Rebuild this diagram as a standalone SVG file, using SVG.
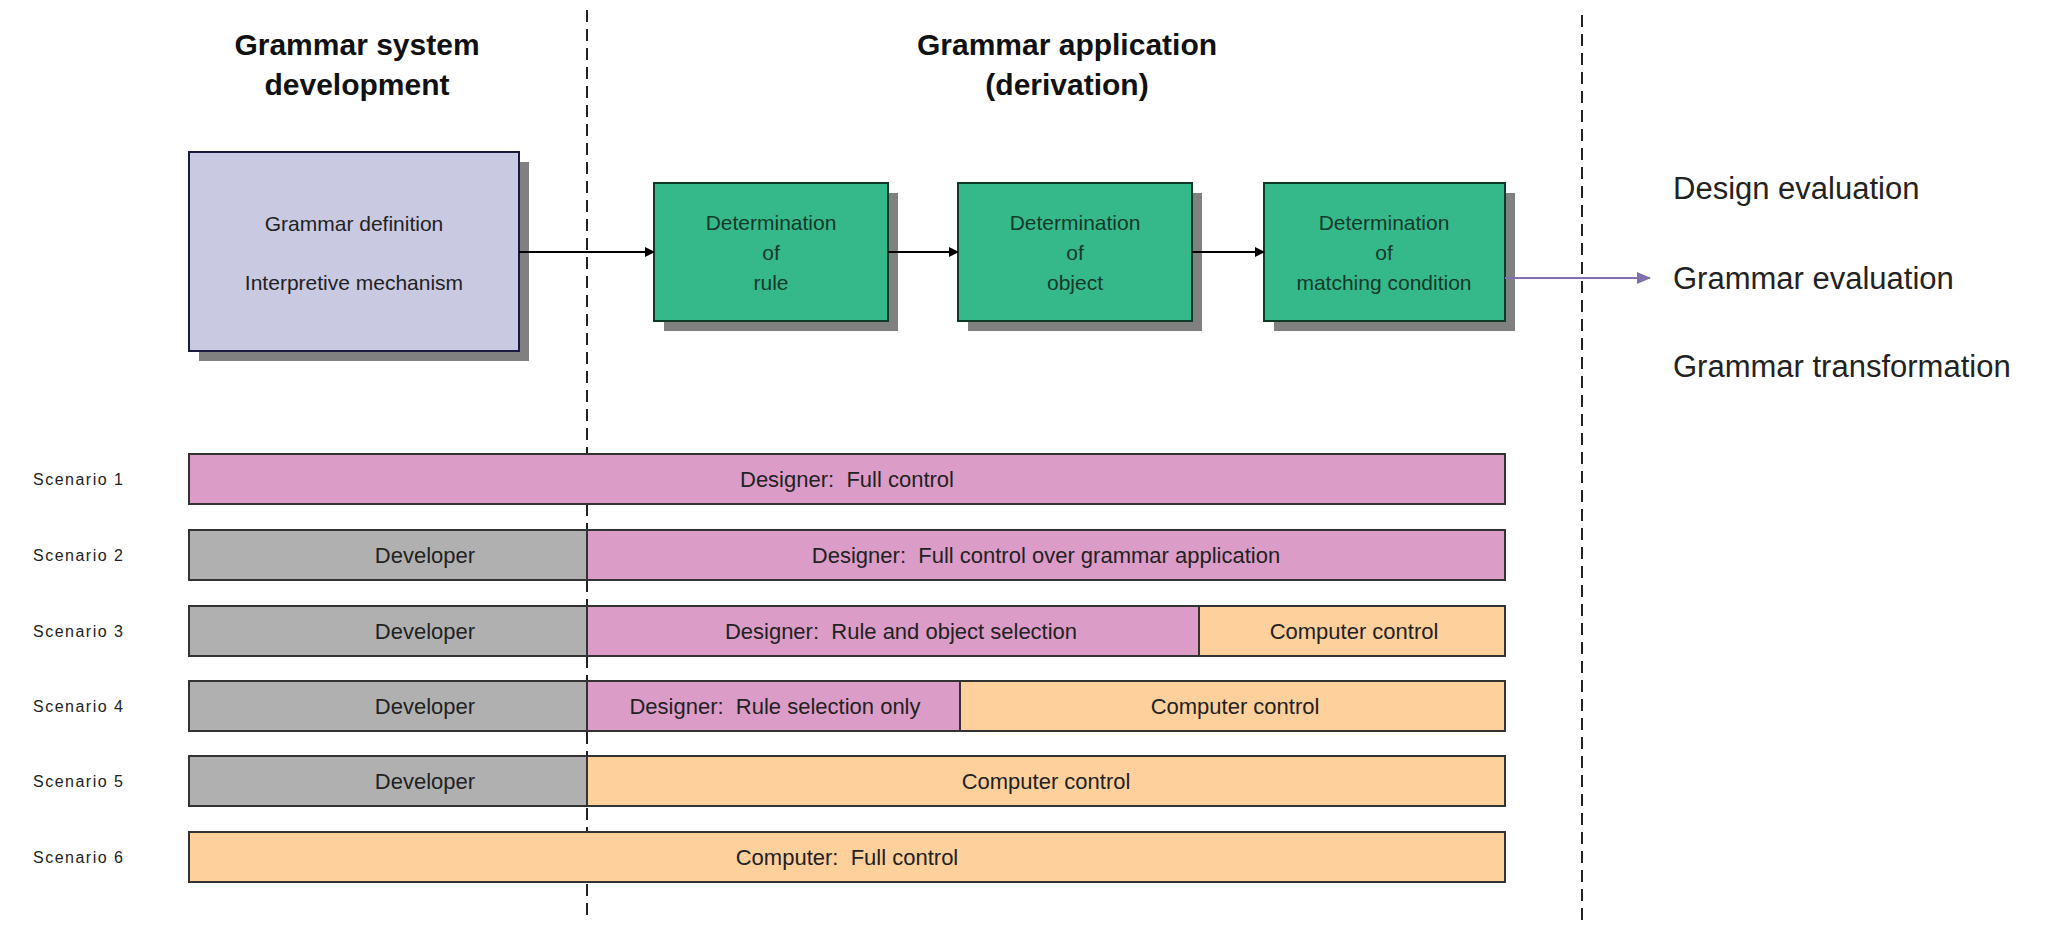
<svg xmlns="http://www.w3.org/2000/svg" width="2069" height="929" viewBox="0 0 2069 929">
<defs>
<marker id="ah" markerWidth="10" markerHeight="10" refX="9" refY="5" orient="auto" markerUnits="userSpaceOnUse"><path d="M0,0 L10,5 L0,10 z" fill="#000"/></marker>
<marker id="ahp" markerWidth="14" markerHeight="12" refX="13" refY="6" orient="auto" markerUnits="userSpaceOnUse"><path d="M0,0 L14,6 L0,12 z" fill="#8070b0"/></marker>
</defs>
<style>
text{font-family:"Liberation Sans",Arial,sans-serif;text-anchor:middle;dominant-baseline:central}
.h{font-size:30px;font-weight:bold;fill:#111}
.bt{font-size:21px;fill:#222}
.gt{font-size:21px;fill:#143a2a}
.sh{fill:#808080}
.pb{fill:#c9c9e1;stroke:#1a1a40;stroke-width:2}
.gb{fill:#36b98a;stroke:#0e3a28;stroke-width:2}
.bar{stroke:#333;stroke-width:2}
.pink{fill:#dc9cc8}.grey{fill:#b0b0b0}.orng{fill:#fdd09c}
.sl{font-size:16px;letter-spacing:1.5px;text-anchor:start;fill:#222}
.rt{font-size:22px;fill:#222}
.right{font-size:31px;text-anchor:start;fill:#222}
.dash{stroke:#222;stroke-width:2;stroke-dasharray:12,7}
</style>
<rect width="2069" height="929" fill="#fff"/>
<g id="dividers">
<line class="dash" x1="587" y1="10" x2="587" y2="915"/>
<line class="dash" x1="1582" y1="15" x2="1582" y2="920"/>
</g>
<g id="headings">
<text class="h" x="357" y="44">Grammar system</text>
<text class="h" x="357" y="84">development</text>
<text class="h" x="1067" y="44">Grammar application</text>
<text class="h" x="1067" y="84">(derivation)</text>
</g>
<g id="grammar-def">
<rect class="sh" x="199" y="162" width="330" height="199"/>
<rect class="pb" x="189" y="152" width="330" height="199"/>
<text class="bt" x="354" y="223">Grammar definition</text>
<text class="bt" x="354" y="282">Interpretive mechanism</text>
</g>
<g id="det-rule">
<rect class="sh" x="664" y="193" width="234" height="138"/>
<rect class="gb" x="654" y="183" width="234" height="138"/>
<text class="gt" x="771" y="222">Determination</text>
<text class="gt" x="771" y="252">of</text>
<text class="gt" x="771" y="282">rule</text>
</g>
<g id="det-object">
<rect class="sh" x="968" y="193" width="234" height="138"/>
<rect class="gb" x="958" y="183" width="234" height="138"/>
<text class="gt" x="1075" y="222">Determination</text>
<text class="gt" x="1075" y="252">of</text>
<text class="gt" x="1075" y="282">object</text>
</g>
<g id="det-matching">
<rect class="sh" x="1274" y="193" width="241" height="138"/>
<rect class="gb" x="1264" y="183" width="241" height="138"/>
<text class="gt" x="1384" y="222">Determination</text>
<text class="gt" x="1384" y="252">of</text>
<text class="gt" x="1384" y="282">matching condition</text>
</g>
<g id="connectors">
<line x1="519" y1="252" x2="654" y2="252" stroke="#000" stroke-width="2" marker-end="url(#ah)"/>
<line x1="888" y1="252" x2="958" y2="252" stroke="#000" stroke-width="2" marker-end="url(#ah)"/>
<line x1="1192" y1="252" x2="1264" y2="252" stroke="#000" stroke-width="2" marker-end="url(#ah)"/>
<line x1="1505" y1="278" x2="1650" y2="278" stroke="#8070b0" stroke-width="2" marker-end="url(#ahp)"/>
</g>
<g id="evaluations">
<text class="right" x="1673" y="188">Design evaluation</text>
<text class="right" x="1673" y="278">Grammar evaluation</text>
<text class="right" x="1673" y="366">Grammar transformation</text>
</g>
<g id="scenario1">
<text class="sl" x="33" y="479">Scenario 1</text>
<rect class="bar pink" x="189" y="454" width="1316" height="50"/>
<text class="rt" x="847" y="479">Designer:&#160; Full control</text>
</g>
<g id="scenario2">
<text class="sl" x="33" y="555">Scenario 2</text>
<rect class="bar grey" x="189" y="530" width="398" height="50"/>
<rect class="bar pink" x="587" y="530" width="918" height="50"/>
<text class="rt" x="425" y="555">Developer</text>
<text class="rt" x="1046" y="555">Designer:&#160; Full control over grammar application</text>
</g>
<g id="scenario3">
<text class="sl" x="33" y="631">Scenario 3</text>
<rect class="bar grey" x="189" y="606" width="398" height="50"/>
<rect class="bar pink" x="587" y="606" width="612" height="50"/>
<rect class="bar orng" x="1199" y="606" width="306" height="50"/>
<text class="rt" x="425" y="631">Developer</text>
<text class="rt" x="901" y="631">Designer:&#160; Rule and object selection</text>
<text class="rt" x="1354" y="631">Computer control</text>
</g>
<g id="scenario4">
<text class="sl" x="33" y="706">Scenario 4</text>
<rect class="bar grey" x="189" y="681" width="398" height="50"/>
<rect class="bar pink" x="587" y="681" width="373" height="50"/>
<rect class="bar orng" x="960" y="681" width="545" height="50"/>
<text class="rt" x="775" y="706">Designer:&#160; Rule selection only</text>
<text class="rt" x="425" y="706">Developer</text>
<text class="rt" x="1235" y="706">Computer control</text>
</g>
<g id="scenario5">
<text class="sl" x="33" y="781">Scenario 5</text>
<rect class="bar grey" x="189" y="756" width="398" height="50"/>
<rect class="bar orng" x="587" y="756" width="918" height="50"/>
<text class="rt" x="425" y="781">Developer</text>
<text class="rt" x="1046" y="781">Computer control</text>
</g>
<g id="scenario6">
<text class="sl" x="33" y="857">Scenario 6</text>
<rect class="bar orng" x="189" y="832" width="1316" height="50"/>
<text class="rt" x="847" y="857">Computer:&#160; Full control</text>
</g>
</svg>
